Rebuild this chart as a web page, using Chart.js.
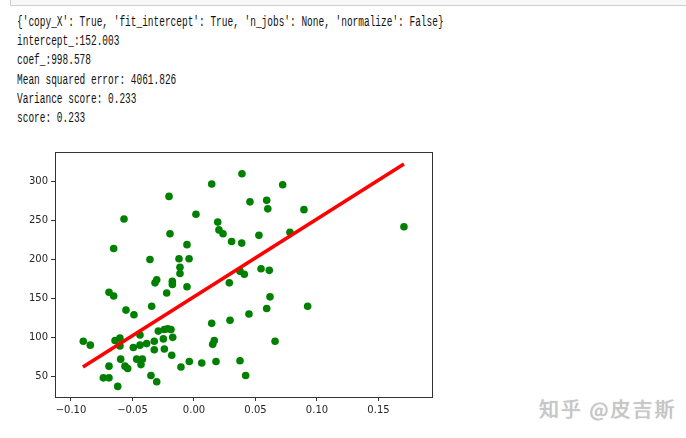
<!DOCTYPE html>
<html>
<head>
<meta charset="utf-8">
<script src="https://cdn.jsdelivr.net/npm/chart.js@4"></script>
<style>
  body { margin: 0; background: #fff; width: 686px; height: 438px; overflow: hidden; position: relative; }
  #cell { position: absolute; left: 10px; top: -2px; width: 690px; height: 6px; background: #f7f7f7; border: 1px solid #cfcfcf; }
  #out { position: absolute; left: 17px; top: 13px; white-space: pre; font-family: "Liberation Mono", monospace; font-size: 14px; line-height: 19.2px; color: #111; transform: scaleX(0.677); transform-origin: left top; }
  #wrap { position: absolute; left: 0; top: 140px; width: 440px; height: 290px; }
  #mark { position: absolute; left: 539px; top: 394px; font-family: "Noto Sans CJK SC"; font-size: 20px; color: #c8c8c8; letter-spacing: 2px; text-shadow: 0 0 1px #aaa; }
</style>
</head>
<body>
<div id="cell"></div>
<div id="out"></div>
<div id="wrap"><canvas id="chart"></canvas></div>
<div id="mark">知乎 @皮吉斯</div>
<script>
const textLines = [
  "{'copy_X': True, 'fit_intercept': True, 'n_jobs': None, 'normalize': False}",
  "intercept_:152.003",
  "coef_:998.578",
  "Mean squared error: 4061.826",
  "Variance score: 0.233",
  "score: 0.233"
];

// points
const xValues = [
  -0.0203, -0.0569, -0.0195, -0.0653, -0.0358, -0.0122, -0.0114, -0.0114, 0.0016, 0.0144,
  0.0193, 0.0203, 0.0236, 0.0306, -0.0040, -0.0057, -0.0317, -0.0303, -0.0176, -0.0176,
  -0.0057, 0.0287, 0.0390, 0.0721, 0.0455, 0.0591, 0.0600, 0.0894, 0.0388, 0.0528,
  0.0780, 0.1707, 0.0374, 0.0409, 0.0545, 0.0612, -0.0691, -0.0653, -0.0222, -0.0344,
  -0.0553, -0.0488, -0.0900, -0.0843, -0.0642, -0.0602, -0.0602, -0.0493, -0.0439, -0.0385,
  -0.0439, -0.0323, -0.0323, -0.0290, -0.0241, -0.0249, -0.0214, -0.0187, -0.0173, -0.0241,
  -0.0181, -0.0596, -0.0561, -0.0539, -0.0466, -0.0420, -0.0431, -0.0691, -0.0737, -0.0691,
  -0.0620, -0.0350, -0.0303, -0.0106, -0.0038, 0.0063, 0.0179, 0.0374, 0.0293, 0.0144,
  0.0165, 0.0152, 0.0618, 0.0591, 0.0447, 0.0924, 0.0659, 0.0420
];
const yValues = [
  281, 252, 233, 214, 200, 201, 190, 182, 258, 297,
  248, 238, 233, 223, 201, 219, 170, 174, 172, 168,
  165, 170, 310, 296, 274, 276, 265, 264, 221, 231,
  235, 242, 185, 181, 188, 186, 158, 153, 157, 140,
  135, 129, 95, 90, 96, 99, 89, 87, 90, 92,
  103, 95, 84, 108, 110, 98, 111, 110, 100, 85,
  77, 72, 63, 60, 72, 72, 65, 63, 48, 48,
  37, 51, 43, 62, 69, 67, 69, 70, 122, 118,
  96, 91, 152, 137, 130, 140, 95, 51
];

// regression line ends
const lineX = [-0.0903, 0.1707];
const lineY = [61.8, 322.5];

const xTicks = [-0.10, -0.05, 0.00, 0.05, 0.10, 0.15];
const yTicks = [50, 100, 150, 200, 250, 300];

document.getElementById('out').textContent = textLines.join('\n');

const fmtX = v => v.toFixed(2).replace('-', '\u2212');

const frame = {
  id: 'frame',
  afterDraw(chart) {
    const { ctx, chartArea: a } = chart;
    ctx.save();
    ctx.strokeStyle = '#333';
    ctx.lineWidth = 1;
    ctx.strokeRect(Math.round(a.left) + 0.5, Math.round(a.top) + 0.5, Math.round(a.right - a.left), Math.round(a.bottom - a.top));
    ctx.restore();
  }
};

new Chart(document.getElementById('chart'), {
  type: 'scatter',
  data: {
    datasets: [
      {
        type: 'line',
        data: lineX.map((x, i) => ({ x, y: lineY[i] })),
        borderColor: '#ff0000',
        borderWidth: 3.6,
        pointRadius: 0,
        fill: false,
        order: 0
      },
      {
        data: xValues.map((x, i) => ({ x, y: yValues[i] })),
        backgroundColor: '#008000',
        borderColor: '#008000',
        pointRadius: 3.8,
        borderWidth: 0,
        order: 1
      }
    ]
  },
  plugins: [frame],
  options: {
    responsive: true,
    maintainAspectRatio: false,
    animation: false,
    layout: { padding: { top: 12, right: 8, left: 0, bottom: 0 } },
    plugins: { legend: { display: false }, tooltip: { enabled: false } },
    scales: {
      x: {
        type: 'linear',
        min: -0.113,
        max: 0.1935,
        afterBuildTicks: s => { s.ticks = xTicks.map(v => ({ value: v })); },
        afterFit: s => { s.height = 33; },
        grid: { drawOnChartArea: false, tickLength: 4, color: '#333' },
        border: { display: false },
        ticks: { callback: v => fmtX(v), color: '#262626', padding: 3, maxRotation: 0, font: { family: 'DejaVu Sans', size: 10 } }
      },
      y: {
        min: 23.4,
        max: 338,
        afterBuildTicks: s => { s.ticks = yTicks.map(v => ({ value: v })); },
        afterFit: s => { s.width = 55; },
        grid: { drawOnChartArea: false, tickLength: 4, color: '#333' },
        border: { display: false },
        ticks: { color: '#262626', padding: 3, font: { family: 'DejaVu Sans', size: 10 } }
      }
    }
  }
});
</script>
</body>
</html>
